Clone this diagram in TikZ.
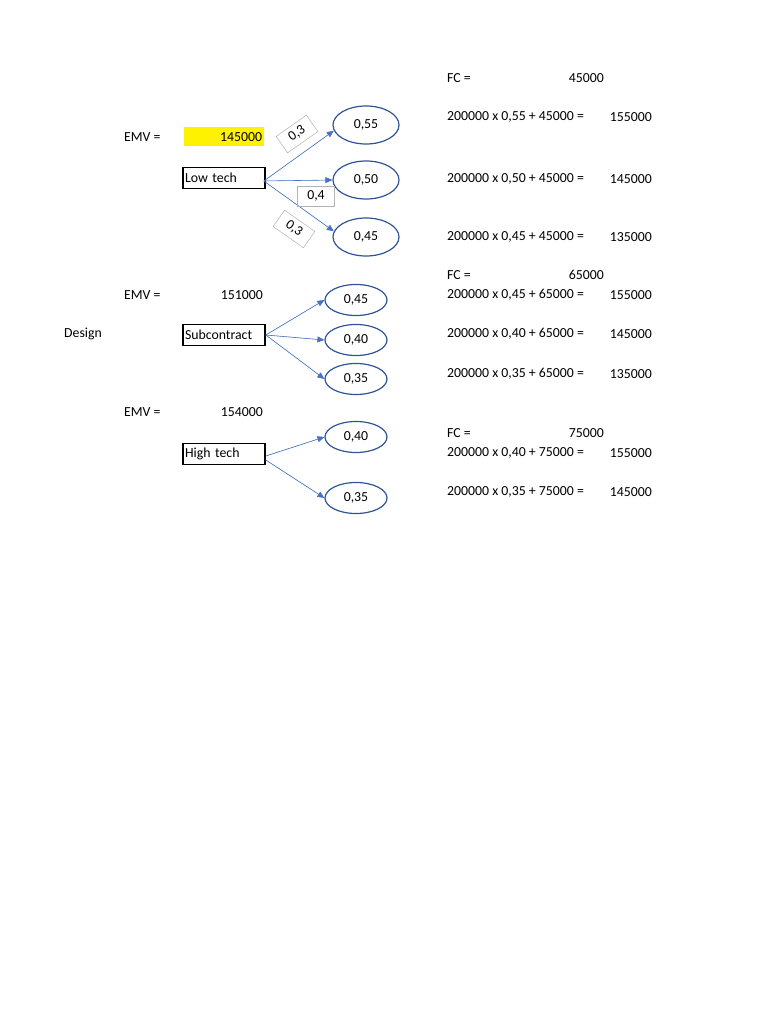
\documentclass[tikz,border=0pt]{standalone}
\usepackage{fontspec}
\setmainfont{Carlito}
\usetikzlibrary{shapes.geometric, arrows.meta}
\tikzset{>=stealth}
\definecolor{arrblue}{HTML}{4472C4}
\definecolor{ellblue}{HTML}{2F5597}

\begin{document}
\begin{tikzpicture}[x=1pt, y=-1pt,
  font=\fontsize{13.8}{16}\selectfont,
  txt/.style={inner sep=0pt, anchor=west},
  val/.style={inner sep=0pt, anchor=east},
  choice/.style={draw, line width=1.6pt, minimum height=21pt, text width=78pt, align=left, inner sep=2pt},
  outc/.style={draw=ellblue, line width=1.2pt, ellipse, inner sep=0pt},
  big/.style={outc, minimum width=66pt, minimum height=38pt},
  small/.style={outc, minimum width=62pt, minimum height=31pt},
  prob/.style={draw=gray!60, line width=0.5pt, minimum width=37pt, minimum height=20pt, inner sep=1pt},
  arr/.style={-{Triangle[length=7pt, width=6pt]}, draw=arrblue, fill=arrblue, line width=0.6pt}]
\useasboundingbox (0,0) rectangle (768,1024);

% low tech
\node[txt] (emv1) at (124,137) {EMV =};
\node[fill=yellow, minimum width=80pt, minimum height=19pt, text width=76pt, align=right, inner sep=2pt] (emv1v) at (224,137) {145000};
\node[choice] (lt) at (224,178) {Low tech};
\node[big] (a55) at (366,125) {0,55};
\node[big] (a50) at (366,180) {0,50};
\node[big] (a45) at (366,237) {0,45};
\draw[arr] ([shift={(-2,3)}]lt.east) -- (a55.190);
\draw[arr] ([shift={(-2,3)}]lt.east) -- (a50.west);
\draw[arr] ([shift={(-2,3)}]lt.east) -- (a45.170);
\node[prob, rotate=35] (pa1) at (297,134) {0,3};
\node[prob] (pa2) at (316,196) {0,4};
\node[prob, rotate=-35] (pa3) at (294,229) {0,3};

% subcontract
\node[txt] (emv2) at (124,295) {EMV =};
\node[val] (emv2v) at (263,295) {151000};
\node[txt] (design) at (64,334) {Design};
\node[choice] (sc) at (224,335) {Subcontract};
\node[small] (b45) at (356,300) {0,45};
\node[small] (b40) at (356,340) {0,40};
\node[small] (b35) at (356,379) {0,35};
\draw[arr] (sc.east) -- (b45.west);
\draw[arr] (sc.east) -- (b40.west);
\draw[arr] (sc.east) -- (b35.west);

% high tech
\node[txt] (emv3) at (124,412) {EMV =};
\node[val] (emv3v) at (263,412) {154000};
\node[choice] (ht) at (224,454) {High tech};
\node[small] (c40) at (356,437) {0,40};
\node[small] (c35) at (356,498) {0,35};
\draw[arr] ([yshift=-2pt]ht.east) -- (c40.west);
\draw[arr] ([yshift=-6pt]ht.east) -- (c35.west);

% payoffs
\node[txt] (fc1) at (447,78) {FC =};
\node[val] (fc1v) at (604,78) {45000};
\node[txt] (r1) at (447,117) {200000 x 0,55 + 45000 =};
\node[val] (r1v) at (652,117) {155000};
\node[txt] (r2) at (447,179) {200000 x 0,50 + 45000 =};
\node[val] (r2v) at (652,179) {145000};
\node[txt] (r3) at (447,237) {200000 x 0,45 + 45000 =};
\node[val] (r3v) at (652,237) {135000};
\node[txt] (fc2) at (447,275) {FC =};
\node[val] (fc2v) at (604,275) {65000};
\node[txt] (r4) at (447,295) {200000 x 0,45 + 65000 =};
\node[val] (r4v) at (652,295) {155000};
\node[txt] (r5) at (447,334) {200000 x 0,40 + 65000 =};
\node[val] (r5v) at (652,334) {145000};
\node[txt] (r6) at (447,374) {200000 x 0,35 + 65000 =};
\node[val] (r6v) at (652,374) {135000};
\node[txt] (fc3) at (447,433) {FC =};
\node[val] (fc3v) at (604,433) {75000};
\node[txt] (r7) at (447,453) {200000 x 0,40 + 75000 =};
\node[val] (r7v) at (652,453) {155000};
\node[txt] (r8) at (447,492) {200000 x 0,35 + 75000 =};
\node[val] (r8v) at (652,492) {145000};
\end{tikzpicture}
\end{document}
